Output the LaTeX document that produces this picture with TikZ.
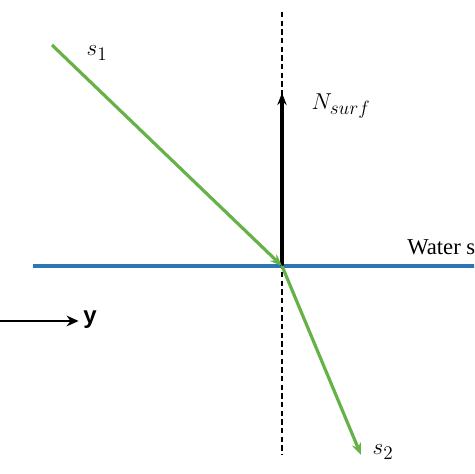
\documentclass[tikz,border=0pt]{standalone}
\usepackage{fontspec}
\setmainfont{Liberation Serif}
\setsansfont{Liberation Sans}
\usetikzlibrary{arrows.meta,
	positioning}

\definecolor{raygreen}{RGB}{102,178,72}
\definecolor{surfblue}{RGB}{46,117,182}

\tikzset{
	ray/.style={raygreen, line width=2.4pt, -{Stealth[length=9pt,width=7pt]}},
	normal/.style={black, line width=2.4pt, -{Stealth[length=9pt,width=7pt]}},
	axis/.style={black, line width=1.8pt, -{Stealth[length=9pt,width=8pt]}},
	lbl/.style={font=\fontsize{17}{20}\selectfont},
	mlbl/.style={font=\fontsize{19}{22}\selectfont},
}

\begin{document}
\begin{tikzpicture}[x=0.75pt,y=0.75pt]
\useasboundingbox (0,0) rectangle (474,474);
\clip (0,0) rectangle (474,474);

% points
\coordinate (O) at (282,208);
\coordinate (Ntop) at (282,462);
\coordinate (Nbot) at (282,19);
\coordinate (S1) at (52,429);
\coordinate (S2) at (361,19);
\coordinate (Ntip) at (282,381);
\coordinate (Wl) at (33,208);
\coordinate (Wr) at (480,208);
\coordinate (Y0) at (-5,153);

% normal line and water surface
\draw[black, line width=1pt, dash pattern=on 4pt off 2.5pt] (Ntop) -- (Nbot);
\draw[surfblue, line width=2.4pt] (Wl) -- (Wr);
\node[lbl, anchor=base west, inner sep=0pt] (water) at (407,219) {Water s};

% surface normal
\draw[normal] (O) -- (Ntip);
\node[mlbl] (nsurf) at (341,368) {$N_{surf}$};

% incident and refracted rays
\draw[ray] (S1) -- (O);
\draw[ray] (O) -- (S2);
\node[mlbl] (s1) at (97,421) {$s_1$};
\node[mlbl] (s2) at (383,22) {$s_2$};

% y axis
\node[font=\sffamily\bfseries\fontsize{18}{20}\selectfont] (ylab) at (90,154) {y};
\draw[axis] (Y0) -- (Y0 -| ylab.west);
\end{tikzpicture}
\end{document}
